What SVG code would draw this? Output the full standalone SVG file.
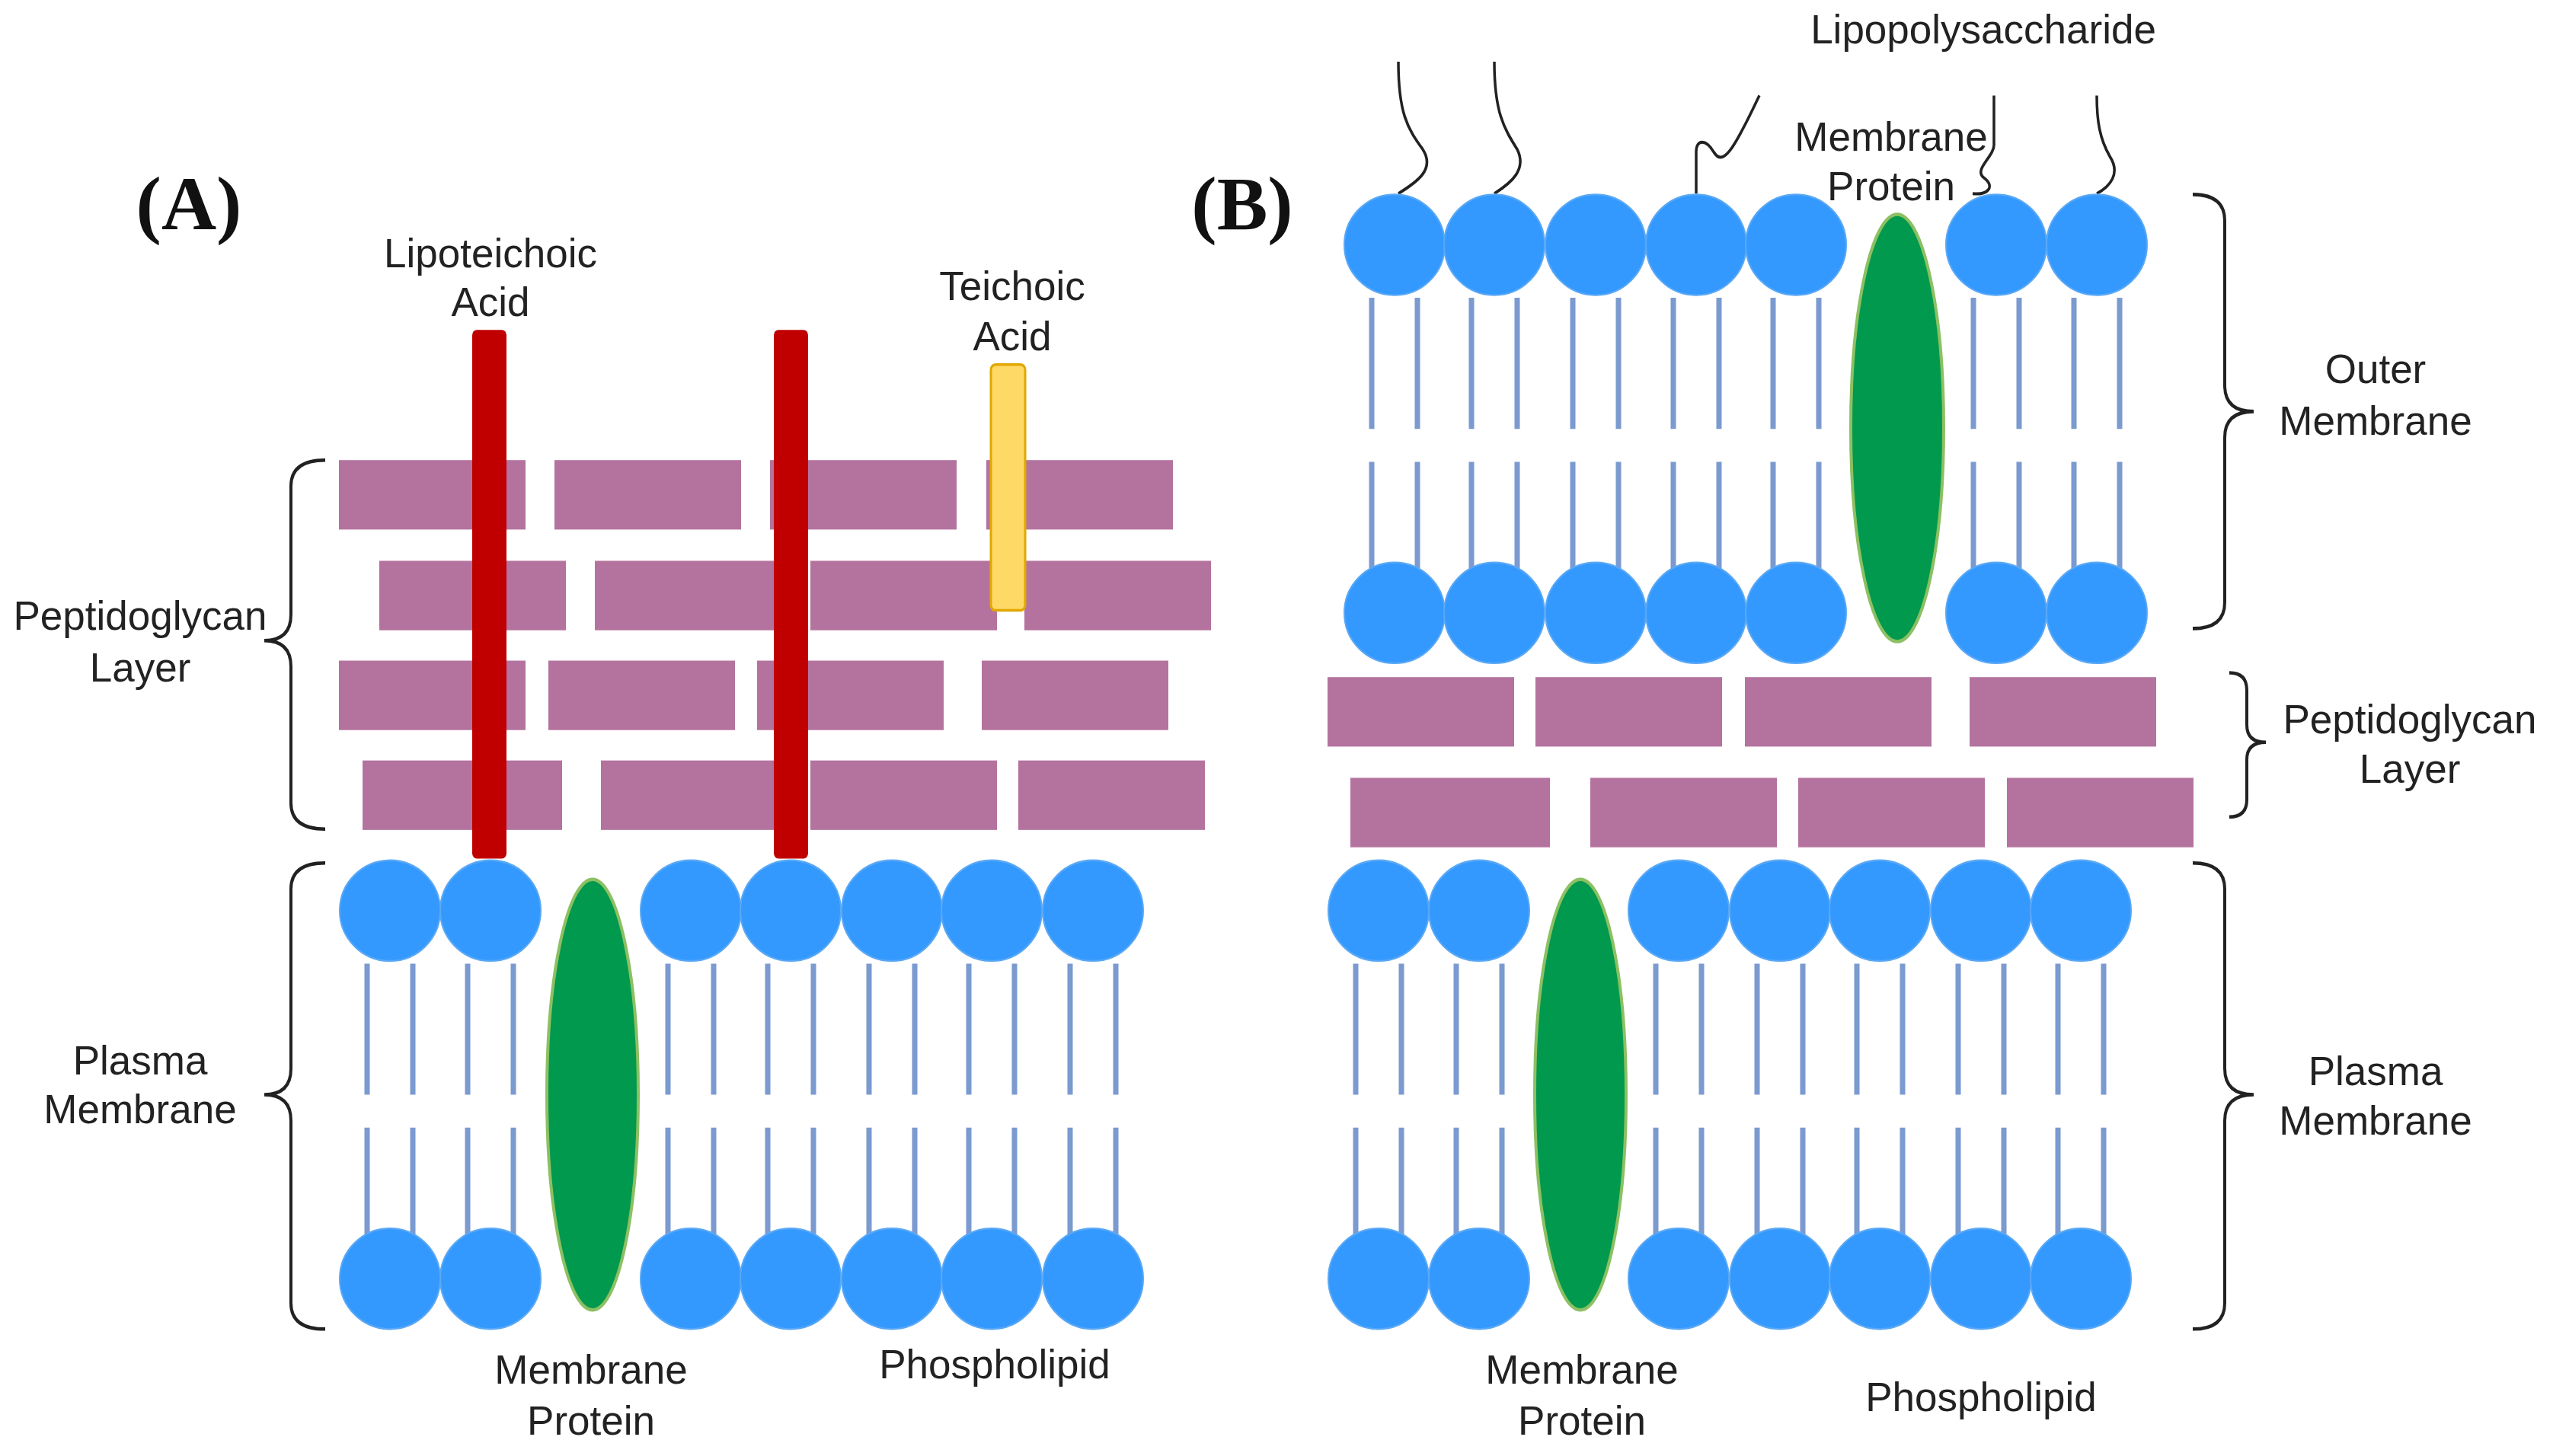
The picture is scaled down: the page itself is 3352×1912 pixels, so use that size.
<svg xmlns="http://www.w3.org/2000/svg" xmlns:xlink="http://www.w3.org/1999/xlink" width="3352" height="1912" viewBox="0 0 3352 1912">
<style>
.pg{fill:#b4739e}
.head{fill:#3399ff;stroke:#5aa8f5;stroke-width:2}
.tail{stroke:#7a9ad0;stroke-width:7}
.prot{fill:#00994d;stroke:#8cc063;stroke-width:4}
.br{fill:none;stroke:#222;stroke-width:4}
.lps{fill:none;stroke:#222;stroke-width:3.5}
.t{font-family:"Liberation Sans",Arial,sans-serif;font-size:53px;fill:#222;text-anchor:middle;dominant-baseline:central}
.big{font-family:"Liberation Serif","Times New Roman",serif;font-size:100px;font-weight:bold;fill:#111;text-anchor:middle;dominant-baseline:central}
</style>
<defs>
<g id="pl">
<line class="tail" x1="-30" y1="61" x2="-30" y2="212"/><line class="tail" x1="30" y1="61" x2="30" y2="212"/>
<line class="tail" x1="-30" y1="250" x2="-30" y2="383"/><line class="tail" x1="30" y1="250" x2="30" y2="383"/>
<ellipse class="head" cx="0" cy="0" rx="66" ry="58"/>
<ellipse class="head" cx="0" cy="424" rx="66" ry="58"/>
</g>
</defs>
<rect width="3352" height="1912" fill="#fff"/>
<g id="panelA">
<text class="big" x="248" y="267">(A)</text>
<g transform="matrix(1 0 0 1.14 0 0)">
<g id="A-peptidoglycan">
<rect class="pg" x="445" y="530" width="245" height="80"/><rect class="pg" x="728" y="530" width="245" height="80"/><rect class="pg" x="1011" y="530" width="245" height="80"/><rect class="pg" x="1295" y="530" width="245" height="80"/>
<rect class="pg" x="498" y="646" width="245" height="80"/><rect class="pg" x="781" y="646" width="245" height="80"/><rect class="pg" x="1064" y="646" width="245" height="80"/><rect class="pg" x="1345" y="646" width="245" height="80"/>
<rect class="pg" x="445" y="761" width="245" height="80"/><rect class="pg" x="720" y="761" width="245" height="80"/><rect class="pg" x="994" y="761" width="245" height="80"/><rect class="pg" x="1289" y="761" width="245" height="80"/>
<rect class="pg" x="476" y="876" width="262" height="80"/><rect class="pg" x="789" y="876" width="262" height="80"/><rect class="pg" x="1064" y="876" width="245" height="80"/><rect class="pg" x="1337" y="876" width="245" height="80"/>
</g>
<g id="A-plasma">
<use xlink:href="#pl" x="512" y="1049"/><use xlink:href="#pl" x="644" y="1049"/><use xlink:href="#pl" x="907" y="1049"/><use xlink:href="#pl" x="1038" y="1049"/><use xlink:href="#pl" x="1171" y="1049"/><use xlink:href="#pl" x="1302" y="1049"/><use xlink:href="#pl" x="1435" y="1049"/>
<ellipse class="prot" cx="778" cy="1261" rx="60" ry="248"/>
</g>
<g id="A-lta">
<rect x="620" y="380" width="45" height="609" rx="6" fill="#c00000"/>
<rect x="1016" y="380" width="45" height="609" rx="6" fill="#c00000"/>
</g>
<rect id="A-ta" x="1301" y="420" width="45" height="283" rx="6" fill="#ffd966" stroke="#e0a800" stroke-width="3"/>
<g id="A-braces">
<path class="br" d="M427,530 Q382,530 382,560 L382,708 Q382,738 347,738 Q382,738 382,768 L382,925 Q382,955 427,955"/>
<path class="br" d="M427,994 Q382,994 382,1024 L382,1231 Q382,1261 347,1261 Q382,1261 382,1291 L382,1501 Q382,1531 427,1531"/>
</g>
</g>
<g id="A-labels">
<text class="t" x="644" y="332">Lipoteichoic</text><text class="t" x="644" y="396">Acid</text>
<text class="t" x="1329" y="375">Teichoic</text><text class="t" x="1329" y="441">Acid</text>
<text class="t" x="184" y="808">Peptidoglycan</text><text class="t" x="184" y="876">Layer</text>
<text class="t" x="184" y="1392">Plasma</text><text class="t" x="184" y="1456">Membrane</text>
<text class="t" x="776" y="1798">Membrane</text><text class="t" x="776" y="1865">Protein</text>
<text class="t" x="1306" y="1791">Phospholipid</text>
</g>
</g>
<g id="panelB">
<text class="big" x="1631" y="267">(B)</text>
<g transform="matrix(1 0 0 1.14 0 0)">
<g id="B-lps">
<path class="lps" d="M1836,223 C1860,210 1885,195 1868,172 C1848,148 1836,130 1836,71"/>
<path class="lps" d="M1962,223 C1985,210 2005,195 1992,172 C1975,148 1962,130 1962,71"/>
<path class="lps" d="M2227,223 L2227,175 C2227,160 2240,160 2250,175 C2262,192 2275,175 2310,110"/>
<path class="lps" d="M2590,223 C2610,225 2620,215 2605,205 C2590,195 2620,180 2618,165 L2618,110"/>
<path class="lps" d="M2753,223 C2770,215 2785,200 2770,180 C2757,160 2753,140 2753,110"/>
</g>
<g id="B-outer">
<use xlink:href="#pl" x="1831" y="282"/><use xlink:href="#pl" x="1962" y="282"/><use xlink:href="#pl" x="2095" y="282"/><use xlink:href="#pl" x="2227" y="282"/><use xlink:href="#pl" x="2358" y="282"/><use xlink:href="#pl" x="2621" y="282"/><use xlink:href="#pl" x="2753" y="282"/>
<ellipse class="prot" cx="2491" cy="493" rx="61" ry="246"/>
</g>
<g id="B-peptidoglycan">
<rect class="pg" x="1743" y="780" width="245" height="80"/><rect class="pg" x="2016" y="780" width="245" height="80"/><rect class="pg" x="2291" y="780" width="245" height="80"/><rect class="pg" x="2586" y="780" width="245" height="80"/>
<rect class="pg" x="1773" y="896" width="262" height="80"/><rect class="pg" x="2088" y="896" width="245" height="80"/><rect class="pg" x="2361" y="896" width="245" height="80"/><rect class="pg" x="2635" y="896" width="245" height="80"/>
</g>
<g id="B-plasma">
<use xlink:href="#pl" x="1810" y="1049"/><use xlink:href="#pl" x="1942" y="1049"/><use xlink:href="#pl" x="2204" y="1049"/><use xlink:href="#pl" x="2337" y="1049"/><use xlink:href="#pl" x="2468" y="1049"/><use xlink:href="#pl" x="2601" y="1049"/><use xlink:href="#pl" x="2732" y="1049"/>
<ellipse class="prot" cx="2075" cy="1261" rx="60" ry="248"/>
</g>
<g id="B-braces">
<path class="br" d="M2879,224 Q2921,224 2921,254 L2921,444 Q2921,474 2959,474 Q2921,474 2921,504 L2921,694 Q2921,724 2879,724"/>
<path class="br" d="M2927,775 Q2950,775 2950,795 L2950,835 Q2950,855 2975,855 Q2950,855 2950,875 L2950,921 Q2950,941 2927,941"/>
<path class="br" d="M2879,994 Q2921,994 2921,1024 L2921,1231 Q2921,1261 2959,1261 Q2921,1261 2921,1291 L2921,1501 Q2921,1531 2879,1531"/>
</g>
</g>
<g id="B-labels">
<text class="t" x="2604" y="38">Lipopolysaccharide</text>
<text class="t" x="2483" y="179">Membrane</text><text class="t" x="2483" y="244">Protein</text>
<text class="t" x="3119" y="484">Outer</text><text class="t" x="3119" y="552">Membrane</text>
<text class="t" x="3164" y="944">Peptidoglycan</text><text class="t" x="3164" y="1009">Layer</text>
<text class="t" x="3119" y="1406">Plasma</text><text class="t" x="3119" y="1471">Membrane</text>
<text class="t" x="2077" y="1798">Membrane</text><text class="t" x="2077" y="1865">Protein</text>
<text class="t" x="2601" y="1834">Phospholipid</text>
</g>
</g>
</svg>
